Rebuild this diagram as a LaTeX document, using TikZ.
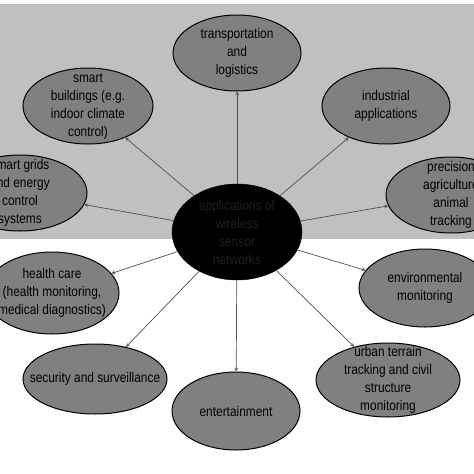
\documentclass[tikz,border=0pt]{standalone}
\usepackage{fontspec}
\setmainfont{Liberation Sans}[FakeStretch=0.85]
\usepackage{tikz}
\usetikzlibrary{shapes.geometric, arrows, positioning}
\usepackage{xcolor}
\definecolor{bggray}{RGB}{192,192,192}
\definecolor{appgray}{RGB}{128,128,128}
\definecolor{hubtext}{RGB}{32,32,32}
\definecolor{linegray}{RGB}{80,80,80}

\begin{document}
\begin{tikzpicture}[
    x=1pt, y=-1pt,
    app/.style={ellipse, draw=black, line width=1pt, fill=appgray, inner sep=-20pt, minimum width=130pt, minimum height=76pt, align=center, font=\fontsize{14}{18}\selectfont, text=black},
    hub/.style={ellipse, draw=black, fill=black, inner sep=-20pt, minimum width=130pt, minimum height=96pt, align=center, font=\fontsize{14}{18}\selectfont, text=hubtext},
    arrow/.style={->, >=stealth, linegray, line width=0.7pt}
]
    \useasboundingbox (0,0) rectangle (474,474);
    \clip (0,0) rectangle (474,474);
    \fill[bggray] (0,4) rectangle (474,239);

    % Central topic
    \node[hub] (wsn) at (237,232) {applications of\\wireless\\sensor\\networks};

    % Application areas
    \node[app, minimum width=128pt] (transport) at (237,53) {transportation\\and\\logistics};
    \node[app] (buildings) at (88,106) {smart\\buildings (e.g.\\indoor climate\\control)};
    \node[app, minimum width=134pt] (grids) at (20,193) {smart grids\\and energy\\control\\systems};
    \node[app, minimum width=128pt] (industrial) at (386,106) {industrial\\applications};
    \node[app] (precision) at (451,195) {precision\\agriculture\\animal\\tracking};
    \node[app, minimum width=134pt, minimum height=82pt] (health) at (52,293) {health care\\(health monitoring,\\medical diagnostics)};
    \node[app, minimum width=144pt, minimum height=70pt] (security) at (95,379) {security and surveillance};
    \node[app, minimum width=128pt, minimum height=78pt] (entertain) at (236,411) {entertainment};
    \node[app, minimum width=132pt, minimum height=78pt] (environ) at (425,288) {environmental\\monitoring};
    \node[app, minimum width=144pt, minimum height=74pt] (urban) at (388,380) {urban terrain\\tracking and civil\\structure\\monitoring};

    % Connections
    \draw[arrow] (wsn) -- (transport);
    \draw[arrow] (wsn) -- (buildings);
    \draw[arrow] (wsn) -- (grids);
    \draw[arrow] (wsn) -- (industrial);
    \draw[arrow] (wsn) -- (precision);
    \draw[arrow] (wsn) -- (health);
    \draw[arrow] (wsn) -- (security);
    \draw[arrow] (wsn) -- (entertain);
    \draw[arrow] (wsn) -- (environ);
    \draw[arrow] (wsn) -- (urban);
\end{tikzpicture}
\end{document}
